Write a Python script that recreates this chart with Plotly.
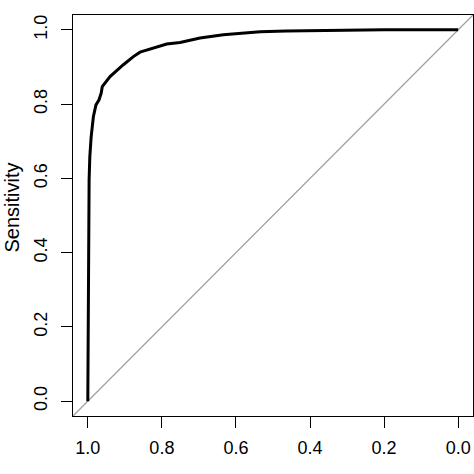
import plotly.graph_objects as go

# ROC curve (specificity, sensitivity)
specificity = [1.000, 0.998, 0.9965, 0.9946, 0.991, 0.985, 0.978, 0.970, 0.964,
               0.961, 0.953, 0.940, 0.904, 0.877, 0.859, 0.814, 0.787, 0.751,
               0.697, 0.634, 0.535, 0.464, 0.400, 0.302, 0.200, 0.100, 0.000]
sensitivity = [0.000, 0.488, 0.596, 0.658, 0.712, 0.766, 0.798, 0.811, 0.829,
               0.847, 0.858, 0.874, 0.906, 0.928, 0.940, 0.955, 0.962, 0.966,
               0.978, 0.987, 0.995, 0.997, 0.998, 0.999, 1.000, 1.000, 1.000]

tick_vals = [1.0, 0.8, 0.6, 0.4, 0.2, 0.0]
tick_text = ["1.0", "0.8", "0.6", "0.4", "0.2", "0.0"]
y_title = "Sensitivity"

FONT = "Liberation Sans, Arial, sans-serif"

fig = go.Figure()
fig.add_trace(go.Scatter(x=specificity, y=sensitivity, mode="lines",
                         line=dict(color="black", width=3), showlegend=False))

# chance diagonal (abline spanning the plot region)
fig.add_shape(type="line", xref="paper", yref="paper", x0=0, y0=0, x1=1, y1=1,
              line=dict(color="#a0a0a0", width=1.2), layer="below")

axis_common = dict(showgrid=False, zeroline=False, showline=True, linecolor="black",
                   linewidth=1, mirror=True, ticks="outside", ticklen=11,
                   tickcolor="black", tickwidth=1, automargin=False,
                   tickfont=dict(family=FONT, size=18, color="black"))

fig.update_xaxes(range=[1.04, -0.04], tickvals=tick_vals, ticktext=tick_text,
                 ticklabelstandoff=4, **axis_common)
fig.update_yaxes(range=[-0.04, 1.04], tickvals=tick_vals[::-1], ticktext=tick_text[::-1],
                 tickangle=-90, ticklabelstandoff=7, **axis_common)

fig.add_annotation(text=y_title, xref="paper", yref="paper", x=0, y=0.5,
                   xanchor="center", yanchor="middle", xshift=-62, yshift=8,
                   textangle=-90, showarrow=False,
                   font=dict(family=FONT, size=20, color="black"))

fig.update_layout(width=474, height=474,
                  margin=dict(l=73, r=1, t=15, b=58, autoexpand=False),
                  paper_bgcolor="white", plot_bgcolor="white",
                  font=dict(family=FONT, color="black"))

fig.write_html("out.html", config={"displayModeBar": False},
               post_script="document.body.style.margin='0';document.body.style.overflow='hidden';")
